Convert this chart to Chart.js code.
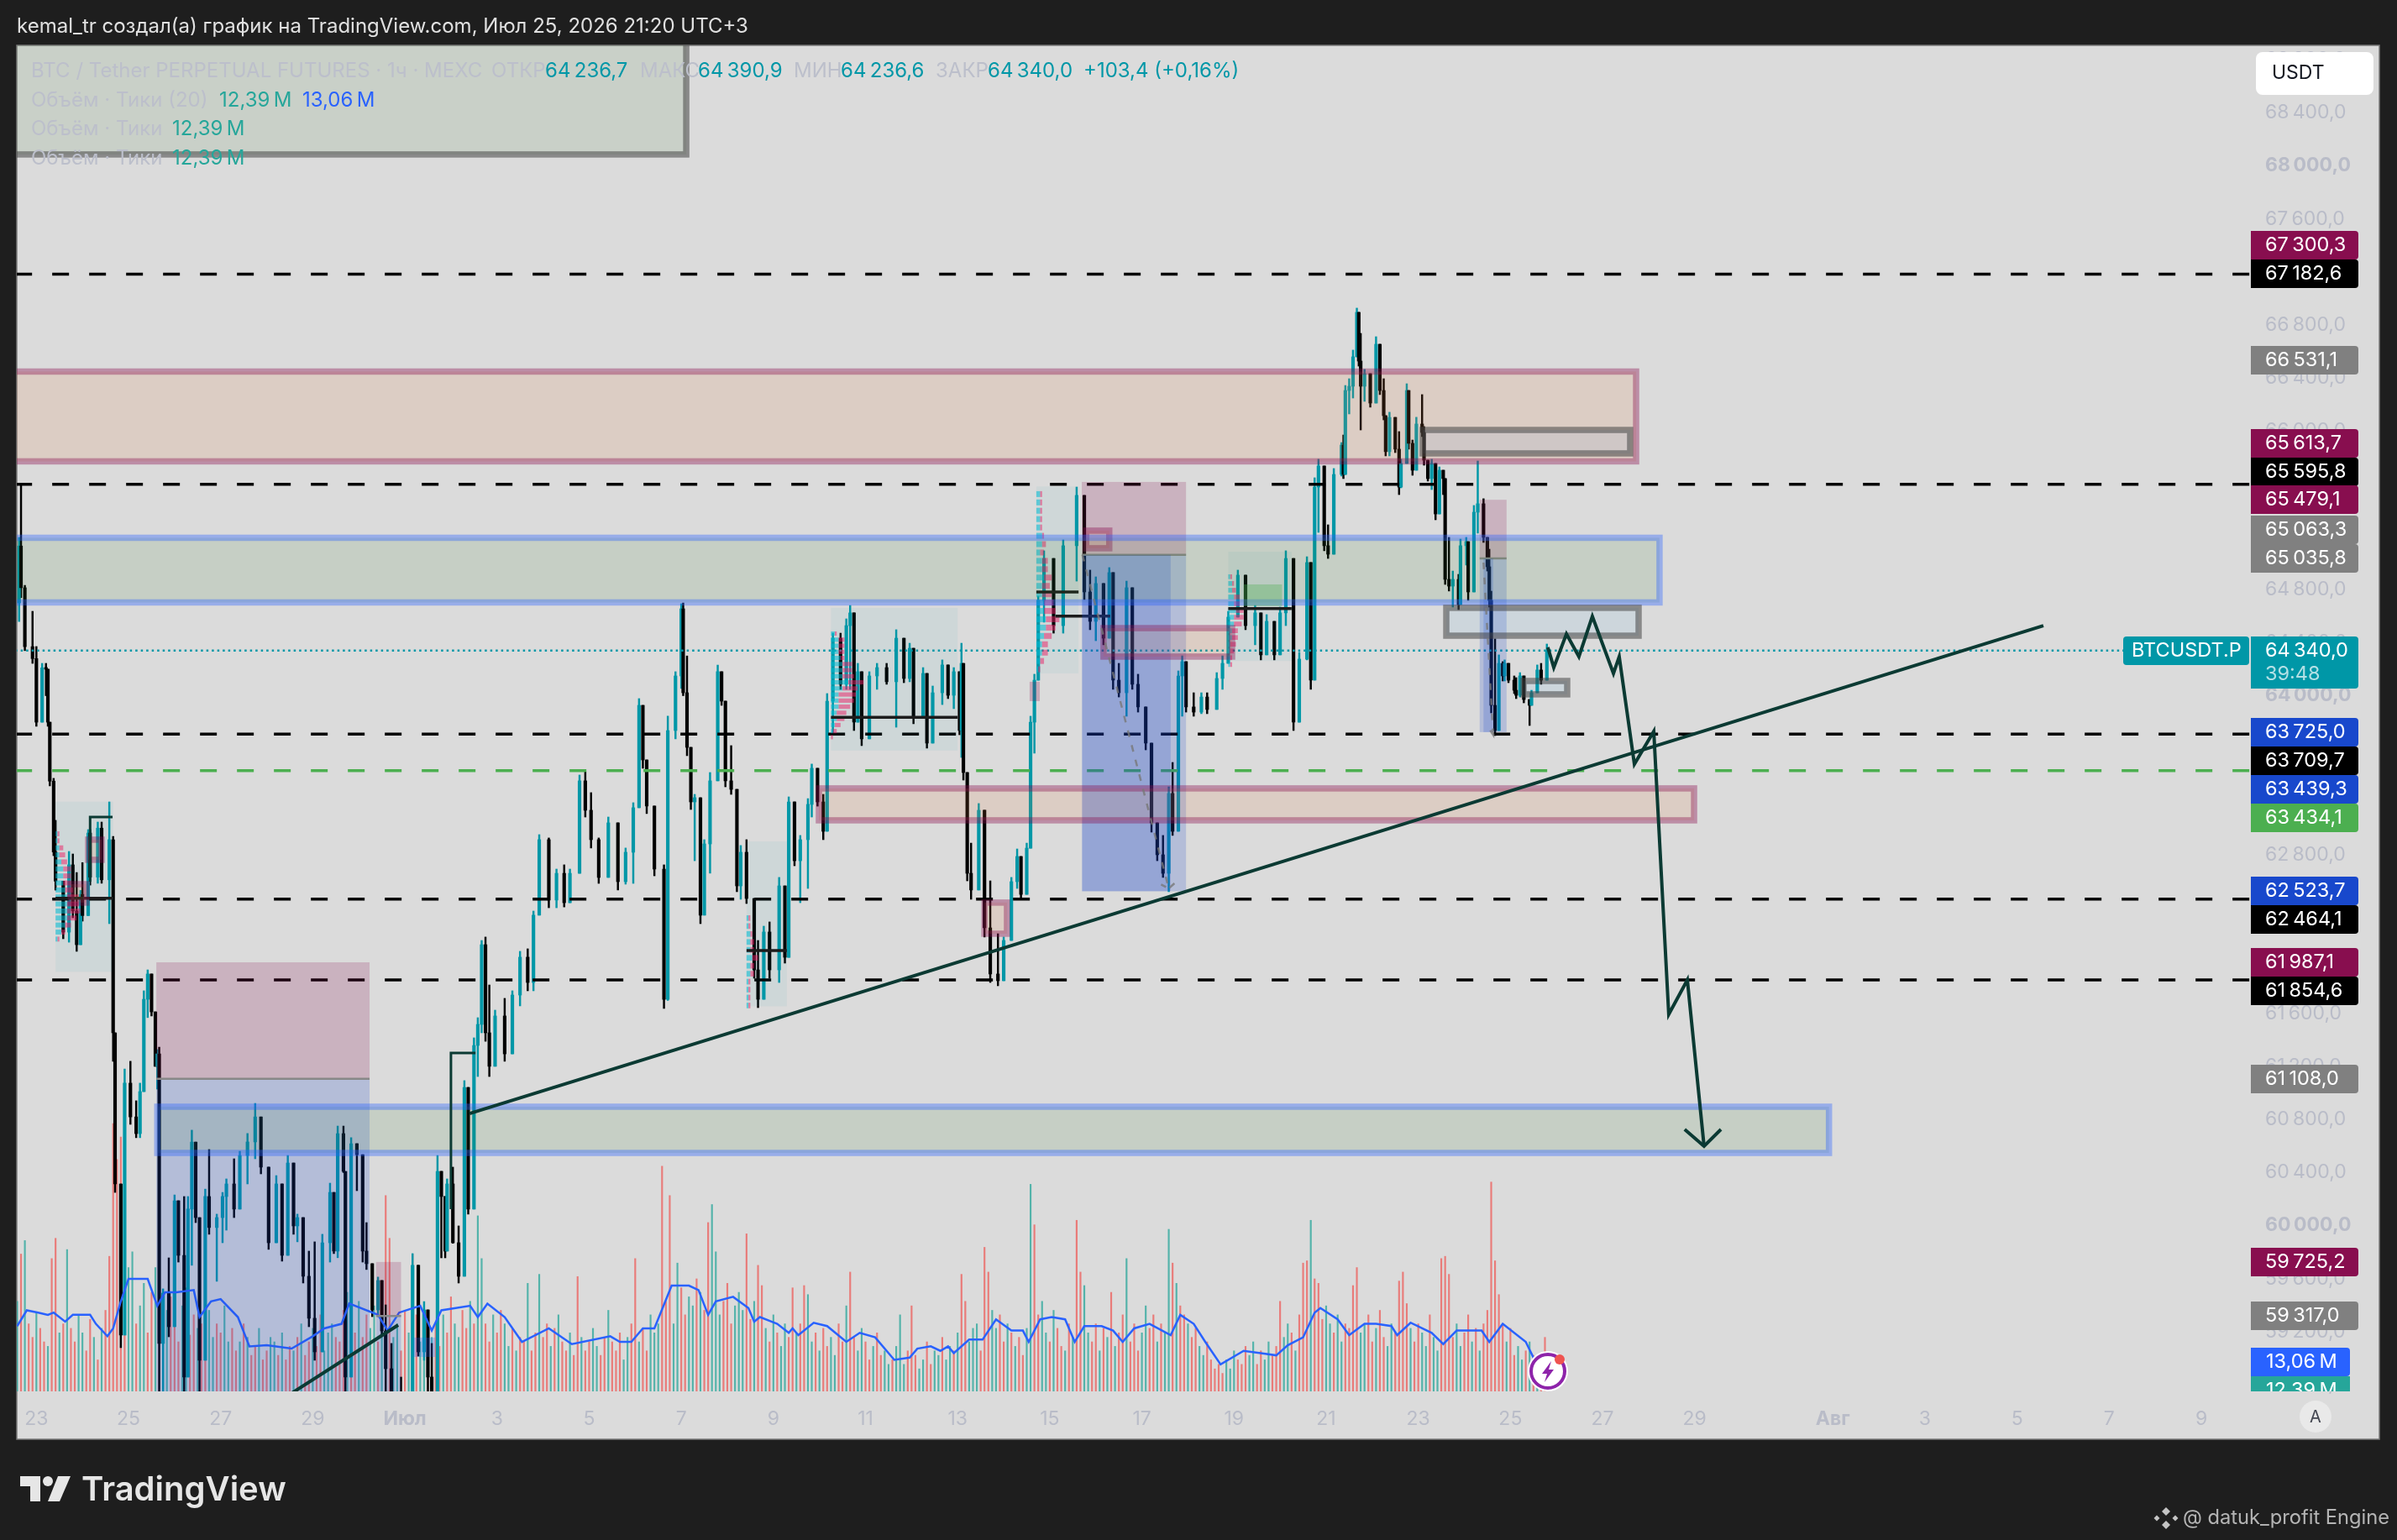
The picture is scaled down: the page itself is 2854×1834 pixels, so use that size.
<!DOCTYPE html>
<html>
<head>
<meta charset="utf-8">
<title>BTCUSDT.P</title>
<script src="https://cdn.jsdelivr.net/npm/chart.js@4"></script>
<style>
  html, body { margin: 0; padding: 0; background: #1e1e1e; }
  canvas { display: block; }
</style>
</head>
<body>
<canvas id="tvChart" width="2854" height="1834"></canvas>
<script>
// time is in hours from Jul 1 00:00
const timeTicks = [-192, -144, -96, -48, 0, 48, 96, 144, 192, 240, 288, 336, 384, 432, 480, 528, 576, 624, 672, 744, 792, 840, 888, 936];
const timeLabels = ["23", "25", "27", "29", "Июл", "3", "5", "7", "9", "11", "13", "15", "17", "19", "21", "23", "25", "27", "29", "Авг", "3", "5", "7", "9"];
const priceTicks = [68800, 68400, 68000, 67600, 67200, 66800, 66400, 66000, 65600, 65200, 64800, 64400, 64000, 63600, 63200, 62800, 62400, 62000, 61600, 61200, 60800, 60400, 60000, 59600, 59200, 58800];

// candles
const firstOpen = 64700;
const candleHours = [-201,-200,-198,-194,-192,-189,-187,-186,-185,-183,-182,-178,-175,-173,-171,-169,-168,-165,-164,-160,-158,-154,-152,-151,-148,-146,-143,-140,-138,-136,-134,-132,-130,-129,-128,-126,-123,-120,-118,-115,-113,-111,-109,-107,-104,-102,-98,-95,-93,-89,-86,-82,-78,-75,-71,-67,-64,-61,-58,-56,-53,-50,-47,-43,-39,-37,-35,-32,-31,-28,-25,-22,-20,-17,-14,-12,-10,-7,-2,4,7,10,12,14,17,19,21,22,25,28,31,33,36,38,40,42,44,47,52,56,60,64,67,70,75,79,83,86,91,94,97,101,106,111,115,119,122,124,126,130,135,137,141,144,145,147,149,151,154,156,159,163,165,167,170,173,175,178,182,184,187,190,195,198,200,203,206,210,212,215,218,220,223,227,230,232,234,236,238,242,246,251,256,260,263,265,270,272,275,280,283,286,289,290,291,293,295,299,302,305,309,312,316,319,321,324,326,328,330,333,338,343,350,354,357,360,364,367,369,372,376,379,382,386,389,392,395,398,400,403,405,407,411,415,418,423,426,429,434,438,443,446,449,453,456,459,463,466,470,472,474,476,479,481,484,488,489,490,492,494,496,497,498,500,503,506,508,510,511,513,516,518,519,522,523,525,527,530,531,533,535,537,539,541,542,544,546,549,550,553,554,557,559,562,564,565,566,568,570,572,573,575,578,579,581,583,586,587,590,592,595];
const candleHighs = [65195,65595,64833,64637,64371,64244,64244,64181,63705,63376,63059,62558,62824,62805,62665,62530,62740,62989,62989,63046,63046,63198,62938,61436,60231,61182,61240,60942,61075,61772,61930,61848,61391,61328,61347,59522,59756,60231,60174,60219,60219,60720,60542,59845,60275,60574,60086,60250,60352,60504,60561,60695,60922,60574,60295,60377,60200,60529,60250,60086,59908,59807,59877,59934,60320,60250,60751,60751,59934,60663,60567,60320,60022,59668,59611,59522,59401,59110,58856,59788,59432,59426,59312,59110,60529,60263,60187,60352,60441,59997,61094,61043,61417,61569,62152,62178,61816,61626,61715,61772,62070,62089,62374,62951,62926,62691,62723,62691,63401,63426,63268,62926,63084,62793,62850,63192,63978,63902,63452,63110,62723,63845,64181,64694,64700,64300,63394,63255,63166,62913,63420,64231,64181,63876,63623,63052,62869,62913,62374,62152,62260,62292,62628,62437,63236,63040,62945,63223,63484,63395,63255,64016,64472,64472,64580,64681,64162,64244,64162,64181,64244,64244,64498,64384,64396,64162,64212,64016,64073,64270,64162,64212,63902,64396,64048,63363,62887,63186,62970,62602,62203,62178,62628,62843,62628,62887,63845,64162,64751,65094,65036,65176,65575,65429,64948,64897,64694,64967,64498,64244,64865,64327,64162,63845,63566,62970,62945,63312,63496,64187,64301,64162,64022,64022,64022,64174,64301,64637,64948,64815,64681,64498,64612,64498,64669,65094,64384,64327,65049,64669,65645,65785,65429,65290,65715,65911,65968,66342,66393,66609,66926,66792,66735,66463,66431,66710,66621,66393,66006,66140,66076,65994,65785,66355,66247,65930,66102,66273,66032,65765,65785,65594,65727,65664,65544,65195,64941,64916,65182,65195,65157,65436,65772,65487,65132,65106,64789,64428,64308,64257,64270,64187,64149,64136,64174,64086,63965,64041,64232,64244,64390];
const candleLows = [64560,64740,64340,64244,63769,63807,64000,63769,63319,62792,62532,62165,62139,62323,62070,62279,62298,62691,62570,62584,62584,62279,61240,60250,59078,59300,60764,60663,60663,61240,61570,61582,61202,61030,58600,58700,59160,59788,59724,58700,59312,59700,60022,58700,59426,59934,59579,59870,59965,60060,60352,60314,60504,60390,59820,59934,59731,59965,59934,59877,59566,59236,58983,59173,59724,59788,59757,60400,58700,59900,60263,59724,59668,59312,59312,59173,58700,58500,58400,58600,59014,58983,58700,58500,58700,59756,59756,59934,59866,59566,60498,60086,60352,61125,61455,61391,61125,61328,61240,61507,61658,61772,61772,62507,62399,62399,62405,62437,62767,63084,62850,62583,62666,62533,62577,62583,63319,63452,63110,62640,61639,61700,63674,64055,64000,63547,63141,62754,62279,62470,62660,63705,63927,63312,63255,62520,62463,62431,61867,61645,61899,61867,61835,61981,62691,62716,62437,62545,63084,63166,62913,63674,63705,64048,64048,64048,63737,63990,63623,63864,64048,64086,63762,64098,64105,63788,63933,63604,63737,63933,63978,63902,63705,63534,63363,62602,62463,62913,62178,61835,61810,61867,62292,62545,62476,62685,62887,63566,64162,64555,64472,64472,64865,64726,64498,64415,64384,64612,64048,63990,63845,64048,63876,63591,62970,62754,62628,62520,62945,63566,63845,63876,63845,63864,63864,63933,64048,64270,64669,64498,64384,64270,64327,64270,64327,64529,63737,63990,64270,64048,64270,65233,65094,65036,65119,65658,65639,65956,66127,66247,66685,66488,66006,66222,66178,66368,66273,66082,65810,65810,65835,65518,65569,65785,65861,65664,65810,65956,65740,65620,65556,65328,65544,65518,64840,64790,64669,64650,64986,64986,64720,65106,65227,65157,64941,64669,63870,63699,63832,64111,64111,64098,64016,63978,63990,63946,63775,63953,64079,64086,64236];
const candleCloses = [65130,64815,64370,64280,63800,64210,64200,63800,63355,62820,62600,62215,62723,62375,62120,62500,62340,62963,62630,63000,62610,62913,61455,60314,59173,61075,60820,60694,61011,61708,61899,61613,61202,61296,59110,59490,59236,60187,59775,58856,60124,60630,60060,58983,60219,59985,60060,60219,60314,60124,60529,60631,60820,60441,59870,60314,59775,60472,59997,60060,59617,59300,59046,59870,60250,59807,60694,60409,58856,60618,60535,59807,59712,59363,59585,59204,58919,58600,58500,59700,59046,59363,58856,58600,60409,60219,59807,60314,59870,59617,61043,60124,61360,61518,62120,61455,61202,61582,61296,61740,62026,61835,62343,62913,62457,62659,62437,62659,63357,63135,62913,62628,63040,62596,62818,63154,63927,63515,63167,62691,61708,63737,64149,64656,64022,63610,63198,63230,62343,62881,63357,64181,63959,63357,63293,62564,62818,62469,61930,61708,62216,61930,62564,62025,63198,62754,62913,63179,63452,63198,62976,63959,64434,64086,64529,64625,63800,64181,63674,64149,64212,64105,64434,64130,64358,63832,64168,63642,64022,64232,64003,64181,63737,64244,63420,62659,62533,63135,62247,61899,61848,62152,62596,62786,62500,62849,63800,64117,64719,65036,64529,65132,65512,64783,64561,64847,64434,64929,64117,64022,64815,64086,63915,63642,63040,62799,62659,63262,62976,64149,64257,63915,63876,63990,63896,64130,64244,64593,64910,64529,64625,64308,64561,64308,64625,65036,63800,64276,65005,64117,65575,65734,65132,65068,65670,65892,65670,66304,66336,66558,66894,66526,66336,66431,66209,66653,66304,66114,65842,66101,65861,65575,65753,66304,65905,65702,66051,65987,65778,65639,65753,65372,65702,65639,64878,64827,64878,64688,65132,65163,64783,65385,65449,65195,64973,64719,63927,63737,64244,64149,64244,64117,64041,64003,64149,63971,63927,64022,64194,64117,64340];

// volume in millions of ticks, one value every two hours from hour -202
const volumeStart = -202;
const volumes = [
  40,61,67,30,24,35,28,22,20,59,68,26, 30,63,28,22,34,26,18,32,24,14,28,36,
  60,119,103,113,40,55,62,30,38,48,26,44, 55,34,26,36,42,30,22,38,46,25,34,28,
  30,44,36,24,30,26,38,22,28,18,22,30, 24,16,20,28,14,18,24,22,16,26,14,20,
  18,24,30,16,22,28,20,34,18,26,30,24, 22,36,44,30,26,40,24,34,28,38,22,30,
  87,68,24,30,18,36,26,61,34,22,28,18, 24,30,20,34,26,42,30,24,36,28,40,30,
  78,59,30,22,34,26,36,30,20,28,18,24, 22,48,18,26,52,24,30,20,28,34,22,18,
  26,16,51,24,18,22,28,20,16,24,36,22, 18,26,14,24,30,59,22,28,18,34,26,30,
  100,40,87,30,57,46,34,42,38,50,44,36, 75,83,62,34,40,48,30,38,44,36,70,32,
  40,56,47,28,22,34,26,20,30,24,46,26, 30,47,43,22,26,18,28,20,24,16,30,22,
  38,53,24,18,28,22,14,20,26,16,18,12, 14,20,34,12,18,38,16,10,14,22,12,18,
  16,24,14,20,18,26,52,40,22,28,30,18, 64,53,36,28,34,22,30,26,20,24,16,28,
  92,74,34,40,26,22,36,28,20,18,30,24, 76,53,47,26,22,30,18,28,24,44,20,26,
  34,59,22,30,18,26,38,28,34,22,30,26, 72,57,48,38,34,30,24,28,20,16,22,14,
  10,12,8,14,10,18,14,12,20,16,22,12, 18,14,22,16,20,40,24,30,26,18,34,57,
  58,76,50,48,32,38,30,26,34,22,30,28, 47,55,26,30,34,22,28,36,24,20,30,26,
  49,53,39,28,22,30,26,20,34,24,18,59, 60,52,24,30,20,26,34,22,28,18,30,36,
  93,58,43,30,22,28,16,20,14,18,22,16, 14,12,24,12
];
const volumeSides = "ududdudduddu" + "dudduuddudud" + "ddddduuduudd" + "uduuddduuddu" + "dduudduuddud" + "uddudduududd" +
  "ududdudduuud" + "dduddudduudu" + "dduuddudduud" + "uddudduuddud" + "uuddudduudud" + "dudduddududd" +
  "uddudduuddud" + "dduuddudduuu" + "ddduudduudud" + "duuuddduuudd" + "uddududuuddu" + "dduududduudd" +
  "udduuddudduu" + "duuuddduuddu" + "uduududduuud" + "dduuddududdu" + "udduududdudu" + "dduuddududud" +
  "duddduuddudu" + "ududdudduudd" + "ddduuuddduud" + "duuddduududd" + "duddduuduudd" + "dduuddudduud" +
  "dddudduuduud" + "ddduuddududd" + "ddddudduudud" + "uddu";

const maHours = [-202,-197,-191,-186,-183,-177,-173,-164,-161,-155,-152,-148,-144,-134,-129,-125,-119,-110,-107,-101,-96,-87,-81,-72,-59,-48,-42,-33,-29,-14,-9,-3,8,14,19,34,38,43,52,61,75,87,107,112,118,124,130,139,148,153,158,162,171,179,182,185,191,194,200,202,205,213,220,230,237,245,255,263,267,274,279,283,286,294,301,308,316,322,325,331,337,344,349,354,363,369,374,380,388,399,404,411,417,425,437,446,454,460,468,474,477,486,492,500,506,514,517,524,535,541,548,561,565,572,584,588,596];
const maValues = [29,36,35,34,35,31,34,34,30,24.5,28,40,50,50,38,44,44,45,33,40,41,33,20,20.5,19,24.5,28,30,39,34,27,35,38,27,36,38,33,39,33,22,28,21,24.5,22,22,28,28,47,47,45,34,40,42,37,31,33,31,30,26,28,25,30.5,29,22,26,24,14,15,19,20,18,20,17,23,23,32,27,27,22,32,33,32,22,29,29,27,22,28,30,25,34,30,22,12,18,17,16,20.5,24,35,37,32,25,30,30,29,25,30.5,26,21,27,27,22,30,22,15,14];

// horizontal levels
const blackLevels = [67182.6, 65595.8, 63709.7, 62464.1, 61854.6];
const greenLevels = [63434.1];
const lastPrice = 64340;

// zones: start hour, end hour, top price, bottom price
const roseZones = [[-210, 641.5, 66447, 65769], [215.7, 671.7, 63300, 63059], [302, 313.7, 62438, 62203], [364, 431, 64510, 64295], [355, 367, 65246, 65113], [-165, -158, 62913, 62761], [-174, -166, 62577, 62438]];
const blueZones = [[-210, 653.7, 65192, 64704], [-129, 742, 60897, 60548]];
const grayZones = [[-210, 146.6, 69100, 68086], [530.3, 638.4, 66006, 65829], [542.6, 642.8, 64663, 64453], [582.8, 605.6, 64111, 64010]];
const tagZones = [[325.5, 330.8, 64105, 63959]];
const greenPatch = [[437, 457, 64840, 64675]];
const smallBlue = [[4.4, 15.8, 59154, 59008]];

// position tools: start hour, end hour, stop price, entry price, target price
const positions = [[-129.5, -18.4, 61987.1, 61108, 58500], [352.7, 407, 65613.7, 65063.3, 62523.7], [560, 574, 65479.1, 65035.8, 63725], [-15, -2, 59725.2, 59317, 58500]];
const positionInner = [[353, 399, 65063, 62524], [562, 567, 65036, 63725]];

// fixed range volume profiles: start hour, end hour, top price, bottom price, poc price, first row price, row step
const profileBoxes = [[-182, -152, 63200, 61915, 62470, 62976, 53], [222, 288, 64663, 63585, 63837, 64485, 46], [178, 199, 62900, 61655, 62076, 62342, 60], [329, 351, 65580, 64168, 64783, 65544, 63], [429, 462, 65087, 64262, 64657, 64916, 51]];
const profileUp = [[1,1,2,2,3,4,4,4,5,6,6,6,6,5,3,1], [2,4,4,4,5,6,6,6,9,6,4,4,4,3,3,2,1,0], [1,1,2,2,2,3,2,2,1,1,1,1], [2,2,2,2,2,3,3,2,3,3,4,3,3,4,4,5,5,4,3,3,2,1], [1,2,2,3,3,4,3,3,2,2,1,1,1,1]];
const profileDown = [[1,1,2,3,3,4,4,4,4,6,6,7,5,3,2,1], [1,3,3,3,2,5,5,6,8,8,9,8,6,5,4,3,2,1], [1,1,1,2,2,3,2,2,1,1,1,1], [1,1,1,1,1,1,2,2,3,3,4,4,5,5,6,7,5,4,3,3,2,1], [1,1,2,3,3,4,5,4,3,3,3,2,1,1]];
const extraPocHours = [339, 367.5];
const extraPocPrice = 64600;

// drawn lines
const trendHours = [33.7, 853.7];
const trendPrices = [60846, 64529];
const trend2Hours = [-63, -3.5];
const trend2Prices = [58697, 59249];
const forecastHours = [595.5, 598.6, 605.2, 611.7, 618.7, 629.7, 632.7, 640.6, 650.7, 658.5, 668.2, 676.9];
const forecastPrices = [64365, 64213, 64466, 64295, 64599, 64168, 64295, 63483, 63731, 61594, 61854, 60599];
const arrowHours = [666.8, 676.9, 685.7];
const arrowPrices = [60726, 60599, 60726];
const bracket1Hours = [36.8, 24, 24];
const bracket1Prices = [61303, 61303, 60124];
const bracket2Hours = [-152.3, -164, -164];
const bracket2Prices = [63084, 63084, 62596];
const fallHours = [353, 398, 394, 398, 401.5];
const fallPrices = [65063, 62545, 62575, 62545, 62590];
const fall2Hours = [562, 567, 565, 567, 570];
const fall2Prices = [65005, 63705, 63750, 63705, 63760];

// right axis tags
const tagPrices = [67300.3, 67182.6, 66531.1, 65613.7, 65595.8, 65479.1, 65063.3, 65035.8, 63725, 63709.7, 63439.3, 63434.1, 62523.7, 62464.1, 61987.1, 61854.6, 61108, 59725.2, 59317];
const tagKinds = ["maroon", "black", "gray", "maroon", "black", "maroon", "gray", "gray", "blue", "black", "blue", "green", "blue", "black", "maroon", "black", "gray", "maroon", "gray"];

const FONT = "Inter, 'Liberation Sans', sans-serif";
const TEAL = "#0097a7";
const tagColors = { maroon: "#880e4f", black: "#000000", gray: "#808080", blue: "#1848cc", green: "#4caf50" };
const tagTops = [275, 309, 412, 511, 545, 578, 614, 648, 855, 889, 923, 957, 1044, 1078, 1129, 1163, 1268, 1486, 1550];

const fmtPrice = (v) => {
  const s = v.toFixed(1).replace(".", ",");
  return s.slice(0, 2) + "\u2009" + s.slice(2);
};

const opens = candleCloses.map((c, i) => (i ? candleCloses[i - 1] : firstOpen));
const wickData = candleHours.map((h, i) => ({
  x: h,
  y: [Math.min(candleLows[i], opens[i], candleCloses[i]), Math.max(candleHighs[i], opens[i], candleCloses[i])],
}));
const bodyData = candleHours.map((h, i) => ({ x: h, y: [opens[i], candleCloses[i]] }));
const candleColors = candleCloses.map((c, i) => (c >= opens[i] ? TEAL : "#000000"));
const volumeData = volumes.map((v, i) => ({ x: volumeStart + i * 2, y: v }));
const volumeColors = volumes.map((v, i) => (volumeSides[i] === "u" ? "rgba(38,166,154,.75)" : "rgba(239,83,80,.7)"));

const pairs = (xs, ys) => xs.map((x, i) => ({ x: x, y: ys[i] }));
const lineSet = (data, color, width, extra) =>
  Object.assign({ type: "line", data: data, borderColor: color, borderWidth: width, pointRadius: 0, tension: 0, fill: false, parsing: { xAxisKey: "x", yAxisKey: "y" } }, extra);
const levelLine = (p, color) => lineSet(pairs([-203, 962], [p, p]), color, 3.5, { borderDash: [20, 24], order: 6 });

// rectangles and text that are not datasets, placed through the chart scales
const overlay = {
  id: "overlay",
  beforeDraw(chart) {
    const c = chart.ctx;
    c.save();
    c.fillStyle = "#1e1e1e";
    c.fillRect(0, 0, chart.width, chart.height);
    c.fillStyle = "#dbdbdb";
    c.fillRect(20, 54, 2813, 1660);
    c.strokeStyle = "#7a7a7a";
    c.lineWidth = 1.5;
    c.strokeRect(20, 54, 2813, 1660);
    c.restore();
  },
  afterDatasetDraw(chart, args) {
    if (!chart.data.datasets[args.index].zonesHere) return;
    const c = chart.ctx;
    const area = chart.chartArea;
    const sx = chart.scales.x;
    const sy = chart.scales.y;
    const rect = (z, fill, stroke, w) => {
      const x0 = sx.getPixelForValue(z[0]);
      const x1 = sx.getPixelForValue(z[1]);
      const y0 = sy.getPixelForValue(z[2]);
      const y1 = sy.getPixelForValue(z[3]);
      if (fill) {
        c.fillStyle = fill;
        c.fillRect(x0, y0, x1 - x0, y1 - y0);
      }
      if (stroke) {
        c.strokeStyle = stroke;
        c.lineWidth = w;
        c.strokeRect(x0, y0, x1 - x0, y1 - y0);
      }
    };
    c.save();
    c.beginPath();
    c.rect(area.left, area.top, area.right - area.left, area.bottom - area.top);
    c.clip();

    // volume profiles
    profileBoxes.forEach((b, k) => {
      rect(b, k === 3 ? "rgba(0,151,167,.05)" : "rgba(0,151,167,.06)");
      profileUp[k].forEach((u, r) => {
        const top = b[5] - r * b[6];
        rect([b[0], b[0] + u, top, top - b[6] * 0.7], "rgba(0,188,212,.55)");
        rect([b[0] + u, b[0] + u + profileDown[k][r], top, top - b[6] * 0.7], "rgba(233,30,99,.5)");
      });
      rect([b[0], b[1], b[4], b[4]], null, "#1c1c1c", 3.5);
    });
    rect([extraPocHours[0], extraPocHours[1], extraPocPrice, extraPocPrice], null, "#1c1c1c", 3.5);

    // long / short tools
    positions.forEach((p) => {
      rect([p[0], p[1], p[2], p[3]], "rgba(136,14,79,.2)");
      rect([p[0], p[1], p[3], p[4]], "rgba(24,72,204,.2)");
      rect([p[0], p[1], p[3], p[3]], null, "#888888", 2.5);
    });
    positionInner.forEach((p) => rect(p, "rgba(24,72,204,.2)"));

    roseZones.forEach((z) => rect(z, "rgba(225,125,66,.15)", "rgba(136,14,79,.38)", 7.5));
    blueZones.forEach((z) => rect(z, "rgba(50,120,40,.12)", "rgba(41,98,255,.38)", 7.5));
    grayZones.forEach((z, i) => rect(z, i === 2 || i === 3 ? "rgba(33,150,243,.07)" : i === 0 ? "rgba(50,120,40,.1)" : "rgba(100,150,220,.1)", "rgba(70,70,70,.55)", 7.5));
    tagZones.forEach((z) => rect(z, "rgba(136,14,79,.25)"));
    greenPatch.forEach((z) => rect(z, "rgba(76,175,80,.35)"));
    smallBlue.forEach((z) => rect(z, "rgba(41,98,255,.25)"));
    c.restore();
  },
  afterDraw(chart) {
    const c = chart.ctx;
    const text = (s, x, y, color, font) => {
      c.fillStyle = color;
      c.font = font;
      c.fillText(s, x, y);
    };
    const roundBox = (x, y, w, h, color, r) => {
      c.fillStyle = color;
      c.beginPath();
      c.roundRect(x, y, w, h, r);
      c.fill();
    };
    c.save();
    c.textBaseline = "middle";
    c.textAlign = "left";

    // title
    text("kemal_tr создал(а) график на TradingView.com, Июл 25, 2026 21:20 UTC+3", 20, 32, "#e0e0e0", `24px ${FONT}`);

    // legend
    const lf = `24px ${FONT}`;
    const mute = "#bcbfcb";
    text("BTC / Tether PERPETUAL FUTURES · 1ч · MEXC", 37, 85, mute, lf);
    [["ОТКР", 585, mute], ["64\u2009236,7", 649, TEAL], ["МАКС", 762, mute], ["64\u2009390,9", 831, TEAL], ["МИН", 945, mute], ["64\u2009236,6", 1001, TEAL], ["ЗАКР", 1114, mute], ["64\u2009340,0", 1176, TEAL], ["+103,4 (+0,16%)", 1290, TEAL]]
      .forEach((t) => text(t[0], t[1], 85, t[2], lf));
    text("Объём · Тики (20)", 37, 120, mute, lf);
    text("12,39\u2009M", 261, 120, "#26a69a", lf);
    text("13,06\u2009M", 360, 120, "#2962ff", lf);
    text("Объём · Тики", 37, 154, mute, lf);
    text("12,39\u2009M", 205, 154, "#26a69a", lf);
    text("Объём · Тики", 37, 189, mute, lf);
    text("12,39\u2009M", 205, 189, "#26a69a", lf);

    // right axis
    roundBox(2686, 62, 140, 51, "#ffffff", 8);
    text("USDT", 2705, 87, "#131722", `23px ${FONT}`);
    const tf = `23.5px ${FONT}`;
    tagPrices.forEach((p, i) => {
      roundBox(2680, tagTops[i], 128, 34, tagColors[tagKinds[i]], [0, 4, 4, 0]);
      text(fmtPrice(p), 2697, tagTops[i] + 17, "#ffffff", tf);
    });
    roundBox(2680, 758, 128, 62, TEAL, [0, 4, 4, 0]);
    text(fmtPrice(lastPrice), 2697, 775, "#ffffff", tf);
    text("39:48", 2697, 803, "rgba(255,255,255,.7)", tf);
    roundBox(2528, 758, 150, 34, TEAL, 4);
    text("BTCUSDT.P", 2538, 775, "#ffffff", tf);
    roundBox(2680, 1605, 118, 34, "#2962ff", [0, 4, 4, 0]);
    text("13,06\u2009M", 2698, 1622, "#ffffff", tf);
    c.save();
    c.beginPath();
    c.rect(2680, 1639, 118, 18);
    c.clip();
    c.fillStyle = "#26a69a";
    c.fillRect(2680, 1639, 118, 18);
    text("12,39\u2009M", 2698, 1656, "#ffffff", tf);
    c.restore();

    // auto button
    c.fillStyle = "#e9e9e9";
    c.beginPath();
    c.arc(2757, 1687, 19, 0, Math.PI * 2);
    c.fill();
    c.textAlign = "center";
    text("A", 2757, 1688, "#434651", `20px ${FONT}`);
    c.textAlign = "left";

    // lightning marker at the end of the volume
    c.fillStyle = "#ffffff";
    c.beginPath();
    c.arc(1843, 1633, 24, 0, Math.PI * 2);
    c.fill();
    c.strokeStyle = "#8e24aa";
    c.lineWidth = 4;
    c.beginPath();
    c.arc(1843, 1633, 20, 0, Math.PI * 2);
    c.stroke();
    c.fillStyle = "#8e24aa";
    c.beginPath();
    [[1847, 1621], [1836, 1636], [1842, 1636], [1839, 1646], [1850, 1631], [1844, 1631]].forEach((p, i) => (i ? c.lineTo(p[0], p[1]) : c.moveTo(p[0], p[1])));
    c.closePath();
    c.fill();
    c.fillStyle = "#ef5350";
    c.beginPath();
    c.arc(1857, 1619, 6, 0, Math.PI * 2);
    c.fill();

    // footer
    c.fillStyle = "#e6e6e6";
    c.fillRect(24, 1758, 24, 12);
    c.fillRect(36, 1758, 12, 30);
    c.beginPath();
    c.arc(57, 1764, 6, 0, Math.PI * 2);
    c.fill();
    c.beginPath();
    c.moveTo(69, 1758);
    c.lineTo(84, 1758);
    c.lineTo(71, 1788);
    c.lineTo(57, 1788);
    c.closePath();
    c.fill();
    text("TradingView", 97, 1775, "#e6e6e6", `600 40px ${FONT}`);
    c.fillStyle = "#c4c4c4";
    [[2579, 1800, 5], [2568, 1808, 3.5], [2590, 1808, 3.5], [2579, 1816, 5]].forEach((d) => {
      c.beginPath();
      c.moveTo(d[0], d[1] - d[2]);
      c.lineTo(d[0] + d[2], d[1]);
      c.lineTo(d[0], d[1] + d[2]);
      c.lineTo(d[0] - d[2], d[1]);
      c.closePath();
      c.fill();
    });
    text("@ datuk_profit Engine", 2599, 1808, "#b4b4b4", `23.7px ${FONT}`);
    c.restore();
  },
};

new Chart(document.getElementById("tvChart"), {
  type: "bar",
  data: {
    datasets: [
      { data: volumeData, backgroundColor: volumeColors, barThickness: 1.5, grouped: false, yAxisID: "vol", order: 10 },
      { data: wickData, backgroundColor: candleColors, barThickness: 1.8, grouped: false, order: 8 },
      { data: bodyData, backgroundColor: candleColors, barThickness: 3.5, grouped: false, minBarLength: 2, order: 7 },
      lineSet(pairs(maHours, maValues), "#2962ff", 2.5, { yAxisID: "vol", order: 5 }),
      ...blackLevels.map((p) => levelLine(p, "#000000")),
      ...greenLevels.map((p) => levelLine(p, "#4caf50")),
      lineSet(pairs([-203, 900], [lastPrice, lastPrice]), TEAL, 2.5, { borderDash: [2.5, 4], order: 6 }),
      { type: "line", data: [], zonesHere: true, order: 4 },
      lineSet(pairs(fallHours, fallPrices), "rgba(120,120,120,.8)", 2.5, { borderDash: [8, 10], order: 3 }),
      lineSet(pairs(fall2Hours, fall2Prices), "rgba(120,120,120,.8)", 2.5, { borderDash: [8, 10], order: 3 }),
      lineSet(pairs(bracket1Hours, bracket1Prices), "#0b3a33", 3, { order: 2 }),
      lineSet(pairs(bracket2Hours, bracket2Prices), "#0b3a33", 3, { order: 2 }),
      lineSet(pairs(trendHours, trendPrices), "#0b3a33", 4, { order: 1 }),
      lineSet(pairs(trend2Hours, trend2Prices), "#0b3a33", 4, { order: 1 }),
      lineSet(pairs(forecastHours, forecastPrices), "#0b3a33", 4, { order: 1 }),
      lineSet(pairs(arrowHours, arrowPrices), "#0b3a33", 4, { order: 1 }),
    ],
  },
  options: {
    responsive: false,
    animation: false,
    devicePixelRatio: 1,
    events: [],
    layout: { padding: { left: 20, top: 54, right: 21, bottom: 120 } },
    plugins: { legend: { display: false }, tooltip: { enabled: false } },
    scales: {
      x: {
        type: "linear",
        offset: false,
        min: -202.2,
        max: 961.8,
        grid: { display: false, drawTicks: false },
        border: { display: false },
        afterBuildTicks: (s) => { s.ticks = timeTicks.map((v) => ({ value: v })); },
        afterFit: (s) => { s.height = 57; },
        ticks: {
          autoSkip: false,
          maxRotation: 0,
          padding: 19,
          color: "#b9bcc8",
          font: (ctx) => ({ family: FONT, size: 23, weight: ctx.tick && (ctx.tick.value === 0 || ctx.tick.value === 744) ? "700" : "400" }),
          callback: (v, i) => timeLabels[i],
        },
      },
      y: {
        position: "right",
        min: 58748,
        max: 68909.6,
        grid: { display: false, drawTicks: false },
        border: { display: false },
        afterBuildTicks: (s) => { s.ticks = priceTicks.map((v) => ({ value: v })); },
        afterFit: (s) => { s.width = 153; },
        ticks: {
          autoSkip: false,
          padding: 17,
          crossAlign: "near",
          color: "#b9bcc8",
          font: (ctx) => ({ family: FONT, size: 23, weight: ctx.tick && ctx.tick.value % 4000 === 0 ? "700" : "400" }),
          callback: (v) => fmtPrice(v),
        },
      },
      vol: { display: false, position: "right", min: 0, max: 598 },
    },
  },
  plugins: [overlay],
});
</script>
</body>
</html>
